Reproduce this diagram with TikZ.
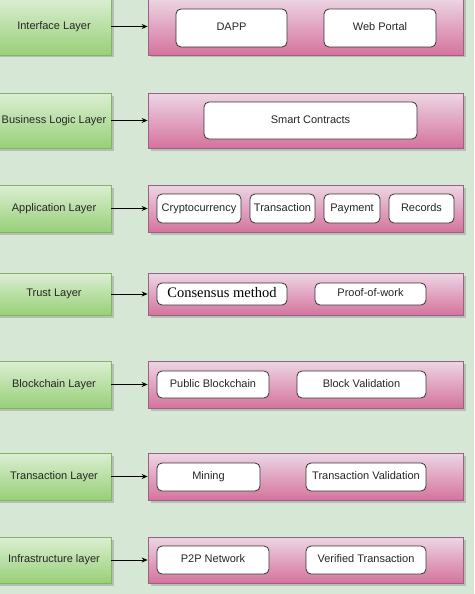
\documentclass[tikz,border=0pt]{standalone}
\usepackage{fontspec}
\setmainfont{Liberation Sans}
\newfontfamily\serifface{Liberation Serif}
\usepackage{tikz}
\usetikzlibrary{positioning,arrows.meta,shadows}
\definecolor{bggreen}{HTML}{D6E8D5}
\definecolor{layertop}{HTML}{DCEED3}
\definecolor{layerbot}{HTML}{97D077}
\definecolor{layerline}{HTML}{82B366}
\definecolor{bandtop}{HTML}{ECD6E4}
\definecolor{bandbot}{HTML}{D5739D}
\definecolor{bandline}{HTML}{996185}

\begin{document}
\begin{tikzpicture}[
  x=1pt, y=-1pt,
  font=\fontsize{11}{13}\selectfont,
  layer/.style={draw=layerline, line width=0.8pt, top color=layertop, bottom color=layerbot,
    minimum width=114pt, inner sep=0pt, text=black!85, text height=8pt, text depth=2.3pt,
    drop shadow={shadow xshift=2.5pt, shadow yshift=-2.5pt, opacity=0.3, fill=black!60}},
  band/.style={draw=bandline, line width=0.8pt, top color=bandtop, bottom color=bandbot,
    minimum width=315pt, inner sep=0pt,
    drop shadow={shadow xshift=2.5pt, shadow yshift=-2.5pt, opacity=0.3, fill=black!60}},
  item/.style={draw=black!80, line width=0.8pt, fill=white, rounded corners=5pt,
    inner sep=1pt, text=black!85, text height=8pt, text depth=2.3pt},
  arr/.style={-{Stealth[length=6pt,width=5pt]}, line width=0.8pt, black}
]
\useasboundingbox (0,0) rectangle (474,594);
\fill[bggreen] (0,0) rectangle (474,594);
% Interface layer
\node[layer, minimum height=57pt] (iface) at (54,26.5) {Interface Layer};
\node[band, minimum height=57pt] (ifaceband) at (305.5,26.5) {};
\node[item, minimum width=111pt, minimum height=38pt] (dapp) at (231.5,28) {DAPP};
\node[item, minimum width=112pt, minimum height=38pt] (portal) at (380,28) {Web Portal};
\draw[arr] (iface) -- (ifaceband);
% Business logic layer
\node[layer, minimum height=55pt] (logic) at (54,120.5) {Business Logic Layer};
\node[band, minimum height=55pt] (logicband) at (305.5,120.5) {};
\node[item, minimum width=213pt, minimum height=37pt] (contracts) at (310.5,120.5) {Smart Contracts};
\draw[arr] (logic) -- (logicband);
% Application layer
\node[layer, minimum height=47pt] (app) at (54,208.5) {Application Layer};
\node[band, minimum height=47pt] (appband) at (305.5,208.5) {};
\node[item, minimum width=84pt, minimum height=29pt] (crypto) at (199,208.5) {Cryptocurrency};
\node[item, minimum width=65pt, minimum height=29pt] (trans) at (282.5,208.5) {Transaction};
\node[item, minimum width=56pt, minimum height=29pt] (payment) at (352,208.5) {Payment};
\node[item, minimum width=65pt, minimum height=29pt] (records) at (421.5,208.5) {Records};
\draw[arr] (app) -- (appband);
% Trust layer
\node[layer, minimum height=42pt] (trust) at (54,294) {Trust Layer};
\node[band, minimum height=42pt] (trustband) at (305.5,294) {};
\node[item, minimum width=130pt, minimum height=22pt, font=\serifface\fontsize{14.5}{16}\selectfont,
  text=black, text height=10pt, text depth=3pt] (consensus) at (222,294) {Consensus method};
\node[item, minimum width=111pt, minimum height=22pt] (pow) at (370.5,294) {Proof-of-work};
\draw[arr] (trust) -- (trustband);
% Blockchain layer
\node[layer, minimum height=47pt] (chain) at (54,384.5) {Blockchain Layer};
\node[band, minimum height=47pt] (chainband) at (305.5,384.5) {};
\node[item, minimum width=112pt, minimum height=27pt] (public) at (213,384.5) {Public Blockchain};
\node[item, minimum width=129pt, minimum height=27pt] (blockval) at (361.5,384.5) {Block Validation};
\draw[arr] (chain) -- (chainband);
% Transaction layer
\node[layer, minimum height=47pt] (txn) at (54,476.5) {Transaction Layer};
\node[band, minimum height=47pt] (txnband) at (305.5,476.5) {};
\node[item, minimum width=103pt, minimum height=28pt] (mining) at (208.5,477) {Mining};
\node[item, minimum width=120pt, minimum height=28pt] (txnval) at (366,477) {Transaction Validation};
\draw[arr] (txn) -- (txnband);
% Infrastructure layer
\node[layer, minimum height=46pt] (infra) at (54,560) {Infrastructure layer};
\node[band, minimum height=46pt] (infraband) at (305.5,560) {};
\node[item, minimum width=112pt, minimum height=28pt] (ptp) at (213,560) {P2P Network};
\node[item, minimum width=120pt, minimum height=28pt] (verified) at (366,560) {Verified Transaction};
\draw[arr] (infra) -- (infraband);
\end{tikzpicture}
\end{document}
